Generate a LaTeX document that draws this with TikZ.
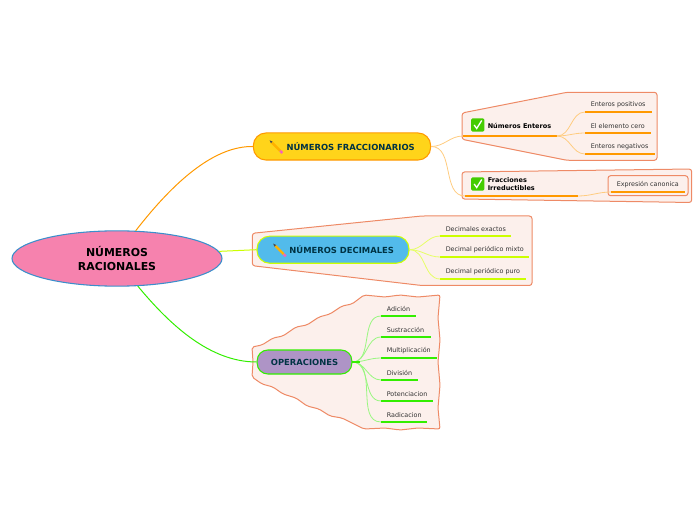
\documentclass[tikz,border=0pt]{standalone}
\usepackage{fontspec}
\setmainfont{DejaVu Sans}
\usetikzlibrary{shapes.geometric}

\definecolor{rootfill}{HTML}{F682AE}
\definecolor{rootline}{HTML}{3A8FCC}
\definecolor{frame}{HTML}{EE8A66}
\definecolor{framefill}{HTML}{FCF0EC}
\definecolor{inktext}{HTML}{003344}
\definecolor{orangeline}{HTML}{FF9900}
\definecolor{limeline}{HTML}{CCFF00}
\definecolor{greenline}{HTML}{33EE00}
\definecolor{tickgreen}{HTML}{44CC00}
\definecolor{fracfill}{HTML}{FFD41A}
\definecolor{decfill}{HTML}{52BBEB}
\definecolor{opfill}{HTML}{AE94C6}
\definecolor{orangetwig}{HTML}{FFCC80}
\definecolor{limetwig}{HTML}{E6FF66}
\definecolor{greentwig}{HTML}{99F780}

\tikzset{
  rootnode/.style={ellipse,draw=rootline,fill=rootfill,line width=.8pt,inner sep=0pt,
    minimum width=157.5pt,minimum height=41.5pt,align=center,
    font=\fontsize{8.2}{9.8}\selectfont\bfseries},
  pill/.style={rectangle,rounded corners=9.5pt,line width=.8pt,inner sep=0pt,text=inktext,
    font=\fontsize{6.3}{8}\selectfont\bfseries},
  outline/.style={draw=frame,fill=framefill,line width=.75pt,rounded corners=2pt},
  leaf/.style={anchor=west,inner sep=0pt,text=black!80,font=\fontsize{4.8}{6}\selectfont},
  topic/.style={anchor=west,inner sep=0pt,align=left,font=\fontsize{4.9}{6}\selectfont\bfseries},
  branch/.style={line width=.75pt},
  twig/.style={line width=.6pt},
  under/.style={line width=1.2pt},
  pencilicon/.pic={
    \fill[orange!60!yellow,rotate=-45] (-6,-1.2) rectangle (6,1.2);
    \fill[black!70,rotate=-45] (-9,0) -- (-6,-1.2) -- (-6,1.2) -- cycle;
    \fill[magenta!60,rotate=-45] (6,-1.2) rectangle (9,1.2);
  },
  tickicon/.pic={
    \fill[tickgreen,rounded corners=1.2pt] (-6.7,-6.7) rectangle (6.7,6.7);
    \draw[white,line width=1pt] (-3.5,0) -- (-1,3.5) -- (4,-4.5);
  }
}

\begin{document}
\begin{tikzpicture}[x=.75pt,y=-.75pt]
\useasboundingbox (0,0) rectangle (696,520);

% frames
\filldraw[outline] (462,113) -- (567,92.3) -- (657,92.3) -- (657,160.3) -- (567,160.3) -- (462,139.3) -- cycle;
\filldraw[outline] (462,172) -- (691.7,169) -- (691.7,202.5) -- (462,199) -- cycle;
\filldraw[outline] (252.3,233.3) -- (421.7,216) -- (532,216) -- (532,285.5) -- (421.7,285.5) -- (252.3,265.7) -- cycle;
\filldraw[outline,rounded corners=1.5pt]
  (252,347) -- (262,345) -- (273,338) -- (283,336) -- (296,327) -- (307,325) -- (319,317) -- (330,314) -- (342,306) -- (352,304)
  -- (364,295) -- (385,297) -- (400,295) -- (418,297) -- (440,295) -- (438,318) -- (440,340) -- (438,362) -- (440,385) -- (438,408)
  -- (440,429) -- (418,428) -- (400,430) -- (385,428) -- (364,429) -- (352,423) -- (342,418) -- (330,416) -- (319,409) -- (307,406)
  -- (296,398) -- (283,394) -- (273,387) -- (262,384) -- (252,377) -- (253,362) -- cycle;

% main nodes
\node (rootnode) [rootnode] at (117,258.5) {NÚMEROS\\RACIONALES};
\node (fraccion) [pill,draw=orangeline,fill=fracfill,minimum width=133pt,minimum height=20.3pt] at (342,146.5) {\hspace*{13pt}NÚMEROS FRACCIONARIOS};
\node (decimal) [pill,draw=limeline,fill=decfill,minimum width=114pt,minimum height=20.3pt] at (333,249.7) {\hspace*{13pt}NÚMEROS DECIMALES};
\node (operacion) [pill,draw=greenline,fill=opfill,rounded corners=8pt,minimum width=71pt,minimum height=18pt] at (304.5,362) {OPERACIONES};

\pic at (276,146.7) {pencilicon};
\pic at (279.5,250) {pencilicon};

% second level
\pic at (477.7,125) {tickicon};
\pic at (477.7,184) {tickicon};
\node (enteros) [topic] at (487.5,125.7) {Números Enteros};
\node (irreduct) [topic] at (487.5,184.5) {Fracciones\\Irreductibles};
\coordinate (enterosa) at (463,136);
\coordinate (enterosb) at (557,136);
\coordinate (irreducta) at (465,196);
\coordinate (irreductb) at (578,196);
\draw[under,orangeline] (enterosa) -- (enterosb);
\draw[under,orangeline] (irreducta) -- (irreductb);

\filldraw[outline,rounded corners=2pt] (608,175.7) rectangle (688,195.7);
\node (canonica) [leaf] at (616.5,184.5) {Expresión canonica};
\coordinate (canonicaa) at (611,192);
\coordinate (canonicab) at (685,192);
\draw[under,line width=.9pt,orangeline] (canonicaa) -- (canonicab);

% leaves
\foreach \nm/\xa/\xb/\y/\txt in {ent1/585/651.7/112/Enteros positivos,ent2/585/650.7/133/El elemento cero,ent3/585/654.5/154/Enteros negativos}{
  \node (\nm) [leaf] at (\xa+5.5,\y-7.3) {\txt};
  \coordinate (\nm a) at (\xa,\y);
  \coordinate (\nm b) at (\xb,\y);
  \draw[under,orangeline] (\nm a) -- (\nm b);
  \draw[twig,orangetwig] (enterosb) to[out=0,in=180] (\nm a);
}
\foreach \nm/\xa/\xb/\y/\txt in {dec1/440/510.7/236/Decimales exactos,dec2/440/529/257/Decimal periódico mixto,dec3/440/525.7/279/Decimal periódico puro}{
  \node (\nm) [leaf] at (\xa+5.5,\y-7.3) {\txt};
  \coordinate (\nm a) at (\xa,\y);
  \coordinate (\nm b) at (\xb,\y);
  \draw[under,limeline] (\nm a) -- (\nm b);
  \draw[twig,limetwig] (decimal.east) to[out=0,in=180] (\nm a);
}
\foreach \nm/\xb/\y/\txt in {op1/416/316/Adición,op2/431/337/Sustracción,op3/437/358/Multiplicación,op4/418/380/División,op5/433/401/Potenciacion,op6/427/422/Radicacion}{
  \node (\nm) [leaf] at (386.5,\y-7.3) {\txt};
  \coordinate (\nm a) at (381,\y);
  \coordinate (\nm b) at (\xb,\y);
  \draw[under,greenline] (\nm a) -- (\nm b);
  \draw[twig,greentwig] (operacion.east) to[out=0,in=180] (\nm a);
}
\draw[under,line width=.8pt,greenline] (operacion.east) -- +(8,0);

% branches
\draw[branch,orangeline] (rootnode.56) .. controls (175,180) and (215,146) .. (fraccion.west);
\draw[branch,limeline] (rootnode.4) -- (decimal.west);
\draw[branch,greenline] (rootnode.-53) .. controls (170,325) and (210,362) .. (operacion.west);
\draw[twig,orangetwig] (fraccion.east) to[out=0,in=180] (enterosa);
\draw[twig,orangetwig] (fraccion.east) to[out=0,in=180] (irreducta);
\draw[twig,orangetwig] (irreductb) to[out=0,in=180] (canonicaa);
\end{tikzpicture}
\end{document}
